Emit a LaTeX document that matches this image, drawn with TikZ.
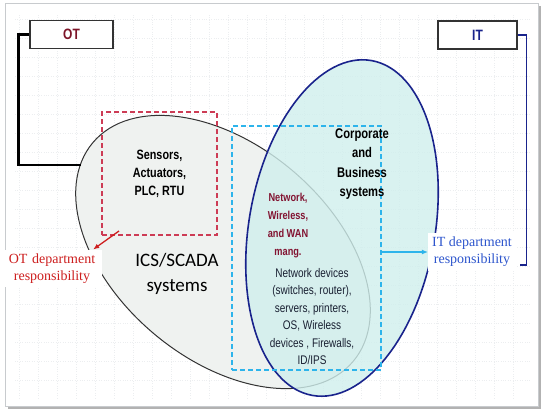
\documentclass[tikz,border=0pt]{standalone}
\usepackage{fontspec}
\setmainfont{Liberation Serif}
\newfontfamily\narrowsf[FakeStretch=0.8]{Liberation Sans}
\newfontfamily\icsfont{Carlito}
\usetikzlibrary{arrows.meta,positioning,calc}
\definecolor{OtRed}{RGB}{125,20,40}
\definecolor{OtDash}{RGB}{205,60,85}
\definecolor{OtLabel}{RGB}{205,30,30}
\definecolor{WanRed}{RGB}{130,20,50}
\definecolor{ItNavy}{RGB}{25,35,140}
\definecolor{ItLabel}{RGB}{45,85,205}
\definecolor{ItCyan}{RGB}{45,180,235}
\definecolor{ItFill}{RGB}{208,239,237}
\definecolor{OtFill}{RGB}{239,242,240}
\definecolor{DevText}{RGB}{25,32,50}
\definecolor{FrameGray}{RGB}{200,203,206}
\definecolor{GridGray}{RGB}{236,238,240}
\tikzset{
  vn/tag/.style={
    draw=black!80,
    line width=1.4bp,
    fill=white,
    minimum width=83bp,
    minimum height=28bp,
    inner sep=0pt,
    font=\narrowsf\bfseries\fontsize{15bp}{15bp}\selectfont
  },
  vn/dashbox/.style={
    dashed,
    dash pattern=on 5bp off 3bp,
    line width=1.2bp,
    inner sep=0pt
  },
  vn/bold/.style={align=center, font=\narrowsf\bfseries\fontsize{13.5bp}{18bp}\selectfont},
  vn/plain/.style={align=center, text=DevText, font=\narrowsf\fontsize{12.5bp}{17.5bp}\selectfont},
  vn/resp/.style={align=center, fill=white, inner sep=4bp, font=\fontsize{14bp}{17bp}\selectfont},
  vn/arrow/.style={-{Latex[length=6bp,width=5bp]}, line width=1.3bp}
}

\begin{document}
\begin{tikzpicture}[x=1bp,y=-1bp]
  \useasboundingbox (0,0) rectangle (544,416);
  % frame and grid
  \fill[black!30] (8,6) rectangle (541,409);
  \fill[white] (5,3) rectangle (538,406);
  \draw[FrameGray, line width=0.8bp] (5,3) rectangle (538,406);
  \draw[GridGray, line width=0.4bp, dotted] (15,15) grid[step=19bp] (530,398);
  % OT and IT sets
  \fill[OtFill, rotate around={-40:(223,252)}] (223,252) ellipse [x radius=170, y radius=107];
  \draw[black!80, line width=1bp, rotate around={-40:(223,252)}] (223,252) ellipse [x radius=170, y radius=107];
  \fill[ItFill, fill opacity=0.8, rotate around={80:(342,228)}] (342,228) ellipse [x radius=170, y radius=93];
  \draw[ItNavy, line width=1.6bp, rotate around={80:(342,228)}] (342,228) ellipse [x radius=170, y radius=93];

  \node[vn/tag, text=OtRed] (ot) at (71.5,34.5) {OT};
  \node[vn/tag, text=ItNavy, minimum width=79bp] (it) at (477.5,35) {IT};
  \node[vn/dashbox, draw=OtDash, minimum width=115bp, minimum height=123bp, vn/bold] (sens) at (159.5,173.5) {Sensors,\\Actuators,\\PLC, RTU};
  \node[vn/dashbox, draw=ItCyan, minimum width=149bp, minimum height=244bp] (netbox) at (306.5,248) {};
  \node[vn/bold, font=\narrowsf\bfseries\fontsize{14bp}{19.3bp}\selectfont] (corp) at (362,164) {Corporate\\and\\Business\\systems};
  \node[vn/bold, text=WanRed, font=\narrowsf\bfseries\fontsize{11.5bp}{18.3bp}\selectfont] (wan) at (288,225.5) {Network,\\Wireless,\\and WAN\\mang.};
  \node[vn/plain] (dev) at (312,316.5) {Network devices\\(switches, router),\\servers, printers,\\OS, Wireless\\devices , Firewalls,\\ID/IPS};
  \node[align=center, text=black, font=\icsfont\fontsize{19bp}{25bp}\selectfont] (ics) at (177,273.5) {ICS/SCADA\\systems};

  \node[vn/resp, text=OtLabel, text width=94bp, inner xsep=3bp] (otlab) at (52,268.5) {OT department\\responsibility};
  \node[vn/resp, text=ItLabel] (itlab) at (472,252) {IT department\\responsibility};

  % connectors
  \coordinate (otfrom) at (119,231);
  \draw[vn/arrow, OtLabel] (otfrom) -- ($(otlab.north east)+(-9,0)$);
  \draw[vn/arrow, ItCyan] (netbox.east |- itlab.west) -- (itlab.west);
  \coordinate (otend) at (81,165);
  \draw[line width=2.6bp, black] (ot.west) -- ++(-11,0) |- (otend);
  \coordinate (itend) at (520,265);
  \draw[line width=1.3bp, ItNavy] (it.east) -- ++(9,0) |- (itend);
\end{tikzpicture}
\end{document}
